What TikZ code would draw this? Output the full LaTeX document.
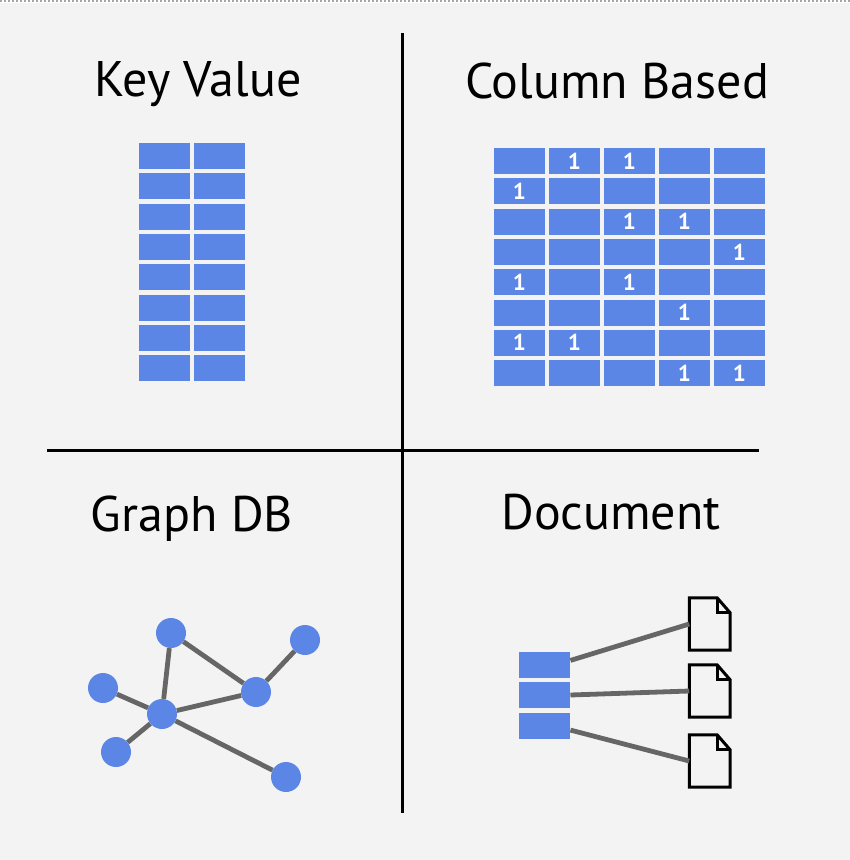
\documentclass[tikz,border=0pt]{standalone}
\usepackage{fontspec}
\setmainfont{PT Sans}
\usepackage{tikz}
\usetikzlibrary{positioning}

\definecolor{cellblue}{HTML}{5B86E5}
\definecolor{linkgray}{HTML}{666666}
\definecolor{pagebg}{HTML}{F3F3F3}

% page outline with its folded corner, drawn on an empty node
\newcommand{\docfold}[1]{
  \draw[docline] (#1.south west) -- (#1.north west) -- ([xshift=-13pt]#1.north east)
    -- ([yshift=-15pt]#1.north east) -- (#1.south east) -- cycle;
  \draw[docline] ([xshift=-13pt]#1.north east) -- ([xshift=-13pt,yshift=-15pt]#1.north east)
    -- ([yshift=-15pt]#1.north east);
}

\begin{document}
\begin{tikzpicture}[x = 1pt, y = -1pt, node distance = 67pt and 55pt, on grid,
                    title/.style   = {font = \fontsize{50}{55}\selectfont, text = black,
                                      inner sep = 0pt, anchor = base},
                    cell/.style    = {rectangle,
                                      fill = cellblue,
                                      inner sep = 0pt,
                                      minimum width = 51.5pt,
                                      minimum height = 26pt},
                    one/.style     = {font = \fontsize{23}{25}\selectfont\bfseries, text = white, inner sep = 0pt},
                    vertex/.style  = {circle,
                                      fill = cellblue,
                                      inner sep = 0pt,
                                      minimum size = 30pt},
                    link/.style    = {draw = linkgray, line width = 4.8pt},
                    divider/.style = {draw = black, line width = 3pt},
                    docpage/.style = {rectangle,
                                      inner sep = 0pt,
                                      minimum width = 40.5pt,
                                      minimum height = 52pt},
                    docline/.style = {draw = black, line width = 3pt, line join = miter}]

\useasboundingbox (0,0) rectangle (850,860);
\fill[pagebg] (0,0) rectangle (850,860);
\fill[white] (0,0) rectangle (850,3);
\draw[gray!70, line width = 2pt, dash pattern = on 2pt off 2pt] (0,1) -- (850,1);

% dividers
\coordinate (Vt) at (402,33);
\coordinate (Vb) at (402,813);
\coordinate (Hl) at (47,450.5);
\coordinate (Hr) at (759,450.5);
\draw[divider] (Vt) -- (Vb);
\draw[divider] (Hl) -- (Hr);

% titles
\node[title] (Tk) at (198,96) {Key Value};
\node[title] (Tc) at (617,98) {Column Based};
\node[title] (Tg) at (192,531) {Graph DB};
\node[title] (Td) at (611,529) {Document};

% key value table
\foreach \r in {1,...,8}{
  \node[cell] (KL\r) at (164.5, {156+30.3*(\r-1)}) {};
  \node[cell] (KR\r) [right = of KL\r] {};
}

% column table
\foreach \r in {1,...,8}{
  \foreach \c in {1,...,5}{
    \node[cell] (C\r\c) at ({519.5+55*(\c-1)}, {161+30.3*(\r-1)}) {};
  }
}
\foreach \r/\c in {1/2,1/3,2/1,3/3,3/4,4/5,5/1,5/3,6/4,7/1,7/2,8/4,8/5}{
  \node[one] (O\r\c) at (C\r\c) {1};
}

% graph
\node[vertex] (A) at (171,633) {};
\node[vertex] (B) at (305,640) {};
\node[vertex] (C) at (256,692) {};
\node[vertex] (D) at (103,688) {};
\node[vertex] (E) at (162,714) {};
\node[vertex] (F) at (116,752) {};
\node[vertex] (G) at (286,777) {};

\path (A) edge [link] (E);
\path (A) edge [link] (C);
\path (E) edge [link] (C);
\path (C) edge [link] (B);
\path (D) edge [link] (E);
\path (E) edge [link] (F);
\path (E) edge [link] (G);

% document store
\node[cell] (S1) at (544.5,665) {};
\node[cell] (S2) at (544.5,695) {};
\node[cell] (S3) at (544.5,725.5) {};

\node[docpage] (P1) at (709.7,624) {};
\node[docpage] (P2) [below = of P1] {};
\node[docpage] (P3) [below = 137pt of P1] {};
\docfold{P1}
\docfold{P2}
\docfold{P3}

\path (S1.10)  edge [link] (P1.west);
\path (S2.east) edge [link] (P2.west);
\path (S3.-10) edge [link] (P3.west);

\end{tikzpicture}
\end{document}
